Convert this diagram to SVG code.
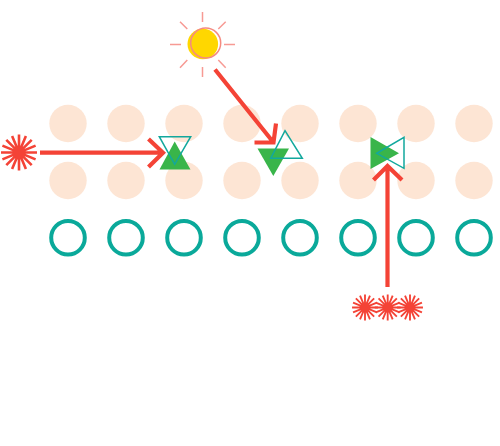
<svg xmlns="http://www.w3.org/2000/svg" width="500" height="446" viewBox="0 0 500 446">
<style>
.atom{fill:#fde5d4}
.ring{fill:none;stroke:#0aa99a;stroke-width:4}
.arrow{fill:none;stroke:#f44336;stroke-width:4.2}
.ray{stroke:#f79a94;stroke-width:1.5;fill:none}
.solid{fill:#39b54a}
.hollow{fill:none;stroke:#12a89d;stroke-width:1.5}
</style>
<defs>
<g id="burst"><path d="M-18 0H18M-16.6-6.9L16.6 6.9M-12.7-12.7L12.7 12.7M-6.9-16.6L6.9 16.6M0-18V18M6.9-16.6L-6.9 16.6M12.7-12.7L-12.7 12.7M16.6-6.9L-16.6 6.9" fill="none" stroke="#f44336" stroke-width="2.6"/><circle r="6.5" fill="#f44336"/></g>
</defs>
<g id="lattice-top">
<circle class="atom" cx="68" cy="123.5" r="18.7"/><circle class="atom" cx="126" cy="123.5" r="18.7"/><circle class="atom" cx="184" cy="123.5" r="18.7"/><circle class="atom" cx="242" cy="123.5" r="18.7"/><circle class="atom" cx="300" cy="123.5" r="18.7"/><circle class="atom" cx="358" cy="123.5" r="18.7"/><circle class="atom" cx="416" cy="123.5" r="18.7"/><circle class="atom" cx="474" cy="123.5" r="18.7"/>
</g>
<g id="lattice-middle">
<circle class="atom" cx="68" cy="180.5" r="18.7"/><circle class="atom" cx="126" cy="180.5" r="18.7"/><circle class="atom" cx="184" cy="180.5" r="18.7"/><circle class="atom" cx="242" cy="180.5" r="18.7"/><circle class="atom" cx="300" cy="180.5" r="18.7"/><circle class="atom" cx="358" cy="180.5" r="18.7"/><circle class="atom" cx="416" cy="180.5" r="18.7"/><circle class="atom" cx="474" cy="180.5" r="18.7"/>
</g>
<g id="lattice-rings">
<circle class="ring" cx="68" cy="237.7" r="16.8"/><circle class="ring" cx="126" cy="237.7" r="16.8"/><circle class="ring" cx="184" cy="237.7" r="16.8"/><circle class="ring" cx="242" cy="237.7" r="16.8"/><circle class="ring" cx="300" cy="237.7" r="16.8"/><circle class="ring" cx="358" cy="237.7" r="16.8"/><circle class="ring" cx="416" cy="237.7" r="16.8"/><circle class="ring" cx="474" cy="237.7" r="16.8"/>
</g>
<g id="sun">
<circle cx="202.8" cy="44" r="15.3" fill="#ffd700"/>
<circle cx="205.7" cy="43" r="15" fill="none" stroke="#f58a80" stroke-width="1.5"/>
<path class="ray" d="M202.5 12V22M202.5 67V77M170 44.5H181M224 44.5H235M180 21.7L187.3 29M225.7 21.7L218.3 29M180 67.7L187.3 60M225.7 67.7L218.3 60"/>
</g>
<g id="source-left"><use href="#burst" x="19" y="152.5"/></g>
<g id="source-bottom">
<use href="#burst" transform="translate(365 307.5) scale(.72)"/>
<use href="#burst" transform="translate(387.7 307.5) scale(.72)"/>
<use href="#burst" transform="translate(410 307.5) scale(.72)"/>
</g>
<g id="pair-left">
<polygon class="solid" points="174.7,141.5 159.5,169.5 190.5,169.5"/>
<polygon class="hollow" points="159.3,136.7 190.7,136.7 174.7,164.3"/>
</g>
<g id="pair-middle">
<polygon class="solid" points="257.5,148.5 289,148.5 273.3,176"/>
<polygon class="hollow" points="285,130.7 302.3,158.3 270.7,158.3"/>
</g>
<g id="pair-right">
<polygon class="solid" points="370.5,137 370.5,169 399,153.3"/>
<polygon class="hollow" points="404,137.3 404,168.3 376.7,153.3"/>
</g>
<g id="connectors">
<path class="arrow" d="M40 152.7H163M148.5 139L163 152.7L148.5 167"/>
<path class="arrow" d="M215 69.5L273.5 142.5M276 123.5L273.5 142.5L254.5 142.5"/>
<path class="arrow" d="M387.5 287V166M373.5 180L387.5 166L402 180"/>
</g>
</svg>
